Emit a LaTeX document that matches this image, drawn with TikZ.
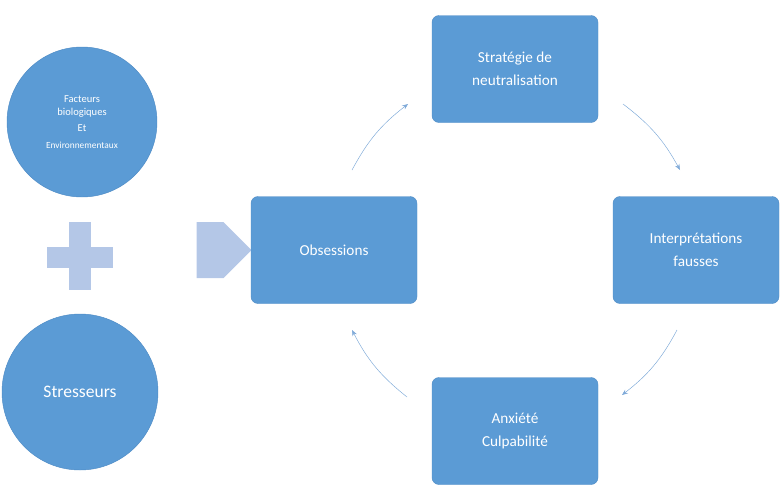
\documentclass[tikz,border=0pt]{standalone}
\usepackage{fontspec}
\setmainfont{Carlito}
\usetikzlibrary{arrows.meta,shapes.arrows}
\definecolor{bfill}{HTML}{5B9BD5}
\definecolor{bdraw}{HTML}{4F8CC6}
\definecolor{light}{HTML}{B4C7E7}
\definecolor{arc}{HTML}{7EA9D8}
\begin{document}
\begin{tikzpicture}[x=0.03cm,y=-0.03cm,
  box/.style={draw=bdraw,fill=bfill,rounded corners=6pt,text=white,align=center,font=\fontsize{13}{20}\selectfont,minimum width=166*0.03cm,minimum height=107*0.03cm},
  circ/.style={circle,draw=bdraw,fill=bfill,text=white,align=center},
  cyc/.style={draw=arc,thin,-{Stealth[length=5pt,width=4pt]}}]
\useasboundingbox (0,0) rectangle (783,496);
\node[circ,minimum size=150*0.03cm,font=\fontsize{9}{14}\selectfont] (f) at (82,122) {Facteurs\\[-3pt]biologiques\\Et\\{\fontsize{8}{10}\selectfont Environnementaux}};
\node[circ,minimum size=156*0.03cm,font=\fontsize{15}{18}\selectfont] (s) at (80,392) {Stresseurs};
\fill[light] (47,247) rectangle (113,268);
\fill[light] (69,222) rectangle (91,290);
\node[single arrow,fill=light,minimum height=55*0.03cm,minimum width=56*0.03cm,single arrow head extend=0pt,inner sep=0pt] (ar) at (210,250) {};
\node[box] (o) at (334,250) {Obsessions};
\node[box] (st) at (515,69) {Stratégie de\\neutralisation};
\node[box] (i) at (696,250) {Interprétations\\fausses};
\node[box] (a) at (515,431) {Anxiété\\Culpabilité};
\draw[cyc] (352,170) to[bend left=12] (408,104);
\draw[cyc] (623,104) to[bend left=12] (680,170);
\draw[cyc] (677,330) to[bend left=12] (622,395);
\draw[cyc] (407,397) to[bend left=12] (352,330);
\end{tikzpicture}
\end{document}
